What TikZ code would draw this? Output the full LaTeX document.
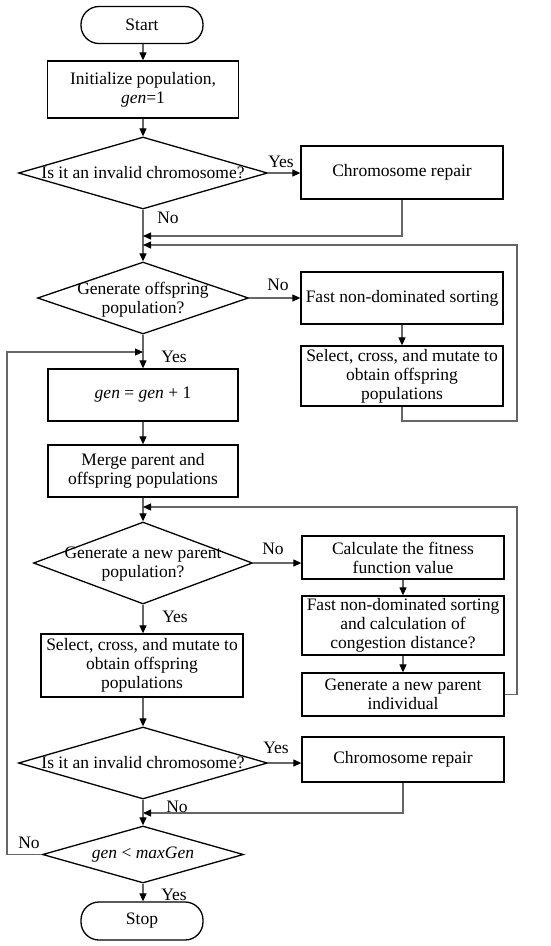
\documentclass[tikz,border=0pt]{standalone}
\usepackage{fontspec}
\setmainfont{Liberation Serif}
\usetikzlibrary{arrows.meta,shapes.geometric}
\tikzset{
  txt/.style={font=\fontsize{17.5}{19}\selectfont, align=center, inner sep=0pt},
  box/.style={txt, draw=black, line width=1.3pt, rectangle},
  term/.style={txt, draw=black, line width=1.3pt, rectangle, rounded corners=18pt},
  dia/.style={draw=black, line width=1.3pt, diamond, inner sep=0pt},
  conn/.style={draw=black!60, line width=1.2pt, -{Triangle[length=8pt,width=7pt,color=black]}},
  lab/.style={font=\fontsize{17.5}{19}\selectfont, inner sep=0pt}
}
\begin{document}
\begin{tikzpicture}[x=1pt,y=-1pt]
\useasboundingbox (0,0) rectangle (550,946);
% main column
\node[term, minimum width=122pt, minimum height=37pt] (start) at (142,25) {Start};
\node[box, minimum width=191pt, minimum height=57pt] (init) at (143,89.5) {Initialize population,\\\textit{gen}=1};
\node[dia, minimum width=249pt, minimum height=72pt] (d1) at (143,173) {};
\node[txt] (d1t) at (143,173) {Is it an invalid chromosome?};
\node[box, minimum width=202pt, minimum height=53pt] (rep1) at (402,172.5) {Chromosome repair};
\node[dia, minimum width=211pt, minimum height=72pt] (d2) at (143,298) {};
\node[txt] (d2t) at (143,300) {Generate offspring\\population?};
\node[box, minimum width=202pt, minimum height=52pt] (fns) at (402,298) {Fast non-dominated sorting};
\node[box, minimum width=202pt, minimum height=60pt] (sel1) at (402,376) {Select, cross, and mutate to\\obtain offspring\\populations};
\node[box, minimum width=190pt, minimum height=52pt] (gen) at (143,395) {\textit{gen} = \textit{gen} + 1};
\node[box, minimum width=190pt, minimum height=52pt] (merge) at (143,471) {Merge parent and\\offspring populations};
\node[dia, minimum width=219pt, minimum height=82pt] (d3) at (143,563) {};
\node[txt] (d3t) at (143,564) {Generate a new parent\\population?};
\node[box, minimum width=202pt, minimum height=43pt] (calc) at (403,557.5) {Calculate the fitness\\function value};
\node[box, minimum width=202pt, minimum height=59pt] (fnsc) at (403,625.5) {Fast non-dominated sorting\\and calculation of\\congestion distance?};
\node[box, minimum width=202pt, minimum height=43pt] (gnp) at (403,694.5) {Generate a new parent\\individual};
\node[box, minimum width=202pt, minimum height=63pt] (sel2) at (142,665.5) {Select, cross, and mutate to\\obtain offspring\\populations};
\node[dia, minimum width=249pt, minimum height=72pt] (d4) at (143,763) {};
\node[txt] (d4t) at (143,763) {Is it an invalid chromosome?};
\node[box, minimum width=202pt, minimum height=45pt] (rep2) at (403,759.5) {Chromosome repair};
\node[dia, minimum width=201pt, minimum height=57pt] (d5) at (143,854.5) {};
\node[txt] (d5t) at (143,855) {\textit{gen} < \textit{maxGen}};
\node[term, minimum width=122pt, minimum height=38pt] (stop) at (142,921) {Stop};

% junction coordinates
\coordinate (j1) at (143,236);
\coordinate (j2) at (143,245);
\coordinate (j3) at (143,352);
\coordinate (j4) at (143,507);
\coordinate (j5) at (143,813);
\coordinate (c2a) at (402,421);
\coordinate (c2b) at (517,421);
\coordinate (c2c) at (517,245);
\coordinate (c4a) at (517,694.5);
\coordinate (c4b) at (517,507);
\coordinate (c5a) at (7,854.5);
\coordinate (c5b) at (7,352);

% connectors
\draw[conn] (start.south -| init.north) -- (init.north);
\draw[conn] (init) -- (d1);
\draw[conn] (d1.east) -- (d1.east -| rep1.west);
\draw[conn] (d1) -- (d2);
\draw[conn] (rep1.south) |- (j1);
\draw[conn] (sel1.south) -- (c2a) -- (c2b) -- (c2c) -- (j2);
\draw[conn] (d2.east) -- (d2.east -| fns.west);
\draw[conn] (fns) -- (sel1);
\draw[conn] (d2) -- (gen);
\draw[conn] (d5.west) -- (c5a) -- (c5b) -- (j3);
\draw[conn] (gen) -- (merge);
\draw[conn] (merge) -- (d3);
\draw[conn] (d3.east) -- (d3.east -| calc.west);
\draw[conn] (calc) -- (fnsc);
\draw[conn] (fnsc) -- (gnp);
\draw[conn] (gnp.east) -- (c4a) -- (c4b) -- (j4);
\draw[conn] (d3.south) -- (d3.south |- sel2.north);
\draw[conn] (sel2.south -| d4.north) -- (d4.north);
\draw[conn] (d4.east) -- (d4.east -| rep2.west);
\draw[conn] (rep2.south) |- (j5);
\draw[conn] (d4) -- (d5);
\draw[conn] (d5.south) -- (d5.south |- stop.north);

% labels
\node[lab] (l1) at (281,162) {Yes};
\node[lab] (l2) at (168,218) {No};
\node[lab] (l3) at (278,285) {No};
\node[lab] (l4) at (174,357) {Yes};
\node[lab] (l5) at (273,549) {No};
\node[lab] (l6) at (175,617) {Yes};
\node[lab] (l7) at (276,748) {Yes};
\node[lab] (l8) at (177,807) {No};
\node[lab] (l9) at (29,843) {No};
\node[lab] (l10) at (174,895) {Yes};
\end{tikzpicture}
\end{document}
